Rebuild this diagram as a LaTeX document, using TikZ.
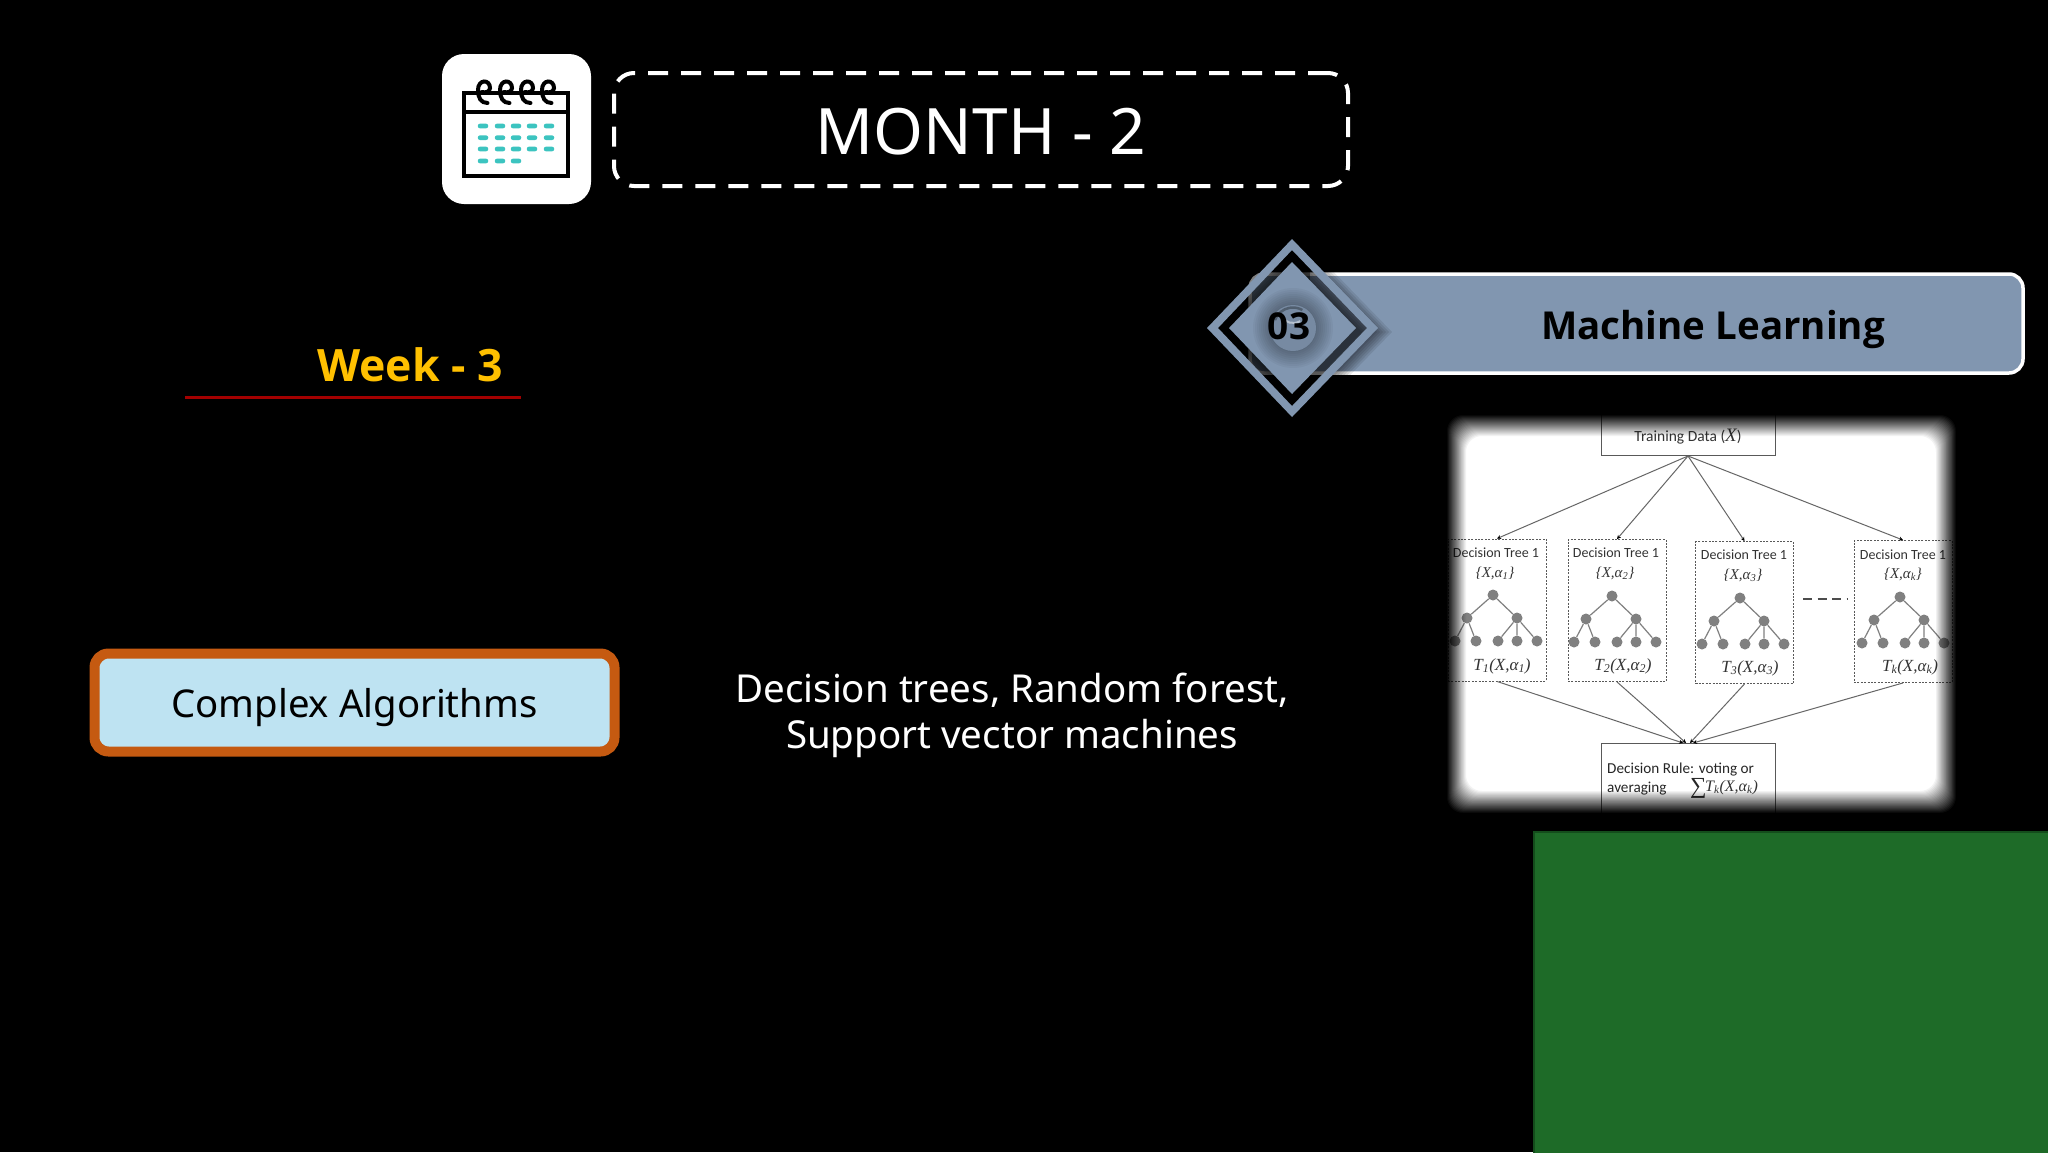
\documentclass[tikz,border=0pt]{standalone}
\usepackage{fontspec}
\setmainfont{Noto Sans}
\newfontfamily\boldf{Open Sans}
\newfontfamily\carl{Carlito}
\newfontfamily\tms{Liberation Serif}
\usetikzlibrary{arrows.meta,shapes.geometric}
\newcommand{\fsz}[1]{\fontsize{#1}{#1}\selectfont}
\definecolor{slate}{HTML}{8196B0}
\definecolor{rust}{HTML}{C55A11}
\definecolor{pale}{HTML}{BEE3F2}
\definecolor{teal1}{HTML}{3CC4C0}
\definecolor{grn}{HTML}{1E6B28}
\definecolor{grnb}{HTML}{144D1C}
\definecolor{wk}{HTML}{FFC000}
\definecolor{nodeg}{HTML}{808080}
\tikzset{
  x=1pt,y=-1pt,
  treebox/.style={draw=black!65,line width=.9pt,dash pattern=on 2pt off 1.4pt,minimum width=98,minimum height=142,inner sep=0},
  plainbox/.style={draw=black!65,line width=1pt,inner sep=0,fill=white},
  dn/.style={circle,fill=nodeg,minimum size=11,inner sep=0},
  de/.style={draw=nodeg,line width=1.2pt},
  flow/.style={draw=black!60,line width=1pt},
  flowa/.style={flow,-{Stealth[black,length=4pt,width=4pt]}},
  tlabel/.style={font=\carl\fsz{14},text=black!80,inner sep=0},
  mlabel/.style={font=\tms\itshape\fsz{15},text=black!80,inner sep=0},
  dashdot/.style={fill=teal1,rounded corners=2.2,minimum width=10.5,minimum height=4.6,inner sep=0},
  bdt/.pic={
    \node[dn] (-r) at (0,0) {};
    \node[dn] (-a) at (-26,23) {};
    \node[dn] (-b) at (24,23) {};
    \node[dn] (-l1) at (-38,46) {};
    \node[dn] (-l2) at (-17,46) {};
    \node[dn] (-l3) at (5,46) {};
    \node[dn] (-l4) at (24,46) {};
    \node[dn] (-l5) at (44,46) {};
    \draw[de] (-r)--(-a) (-r)--(-b) (-a)--(-l1) (-a)--(-l2) (-b)--(-l3) (-b)--(-l4) (-b)--(-l5);
  }
}
\newcommand{\ringat}[1]{\draw[black,line width=4pt,line cap=round,xshift=#1pt]
  (4.5,103) .. controls (-2,103) and (-5,98) .. (-5,90) .. controls (-5,79) and (7,79) .. (7,88) .. controls (7,92) and (2,93) .. (-1,92);}
\begin{document}
\begin{tikzpicture}
\useasboundingbox (0,0) rectangle (2048,1152);
\fill[black] (0,0) rectangle (2048,1152);

% green panel
\node[draw=grnb,line width=2pt,fill=grn,minimum width=520,minimum height=325,inner sep=0,anchor=north west] (panel) at (1533,831) {};

% calendar icon
\node[fill=white,rounded corners=22,minimum width=149,minimum height=150,inner sep=0] (iconbox) at (516.5,129) {};
\node[draw=black,line width=4.5pt,fill=white,minimum width=104,minimum height=83,inner sep=0] (cal) at (516,134.5) {};
\coordinate (hl) at (462,112); \coordinate (hr) at (570,112);
\draw[black,line width=4.5pt] (hl)--(hr);
\ringat{483}\ringat{505}\ringat{526}\ringat{547}
\foreach \yy [count=\r] in {126,137.7,149,161}{
  \foreach \xx [count=\c] in {483,500,516,532,549}{
    \ifnum\r=4 \ifnum\c>3 \else \node[dashdot] (d\r\c) at (\xx,\yy) {}; \fi
    \else \node[dashdot] (d\r\c) at (\xx,\yy) {}; \fi
  }
}

% month title
\node[draw=white,line width=4pt,rounded corners=20,dash pattern=on 20pt off 13pt,minimum width=734,minimum height=113,inner sep=0] (month) at (981,129.5) {};
\node[text=white,font=\fsz{64},inner sep=0] (monthtext) at (981,132) {MONTH - 2};

% week
\node[text=wk,font=\boldf\bfseries\fsz{44.6},inner sep=0] (week) at (410,364.5) {Week - 3};
\coordinate (wl) at (185,397); \coordinate (wr) at (521,397);
\draw[draw=black!20!red!80!black,line width=3pt] (wl)--(wr);

% banner
\node[draw=white,line width=3.5pt,fill=slate,rounded corners=14,minimum width=773,minimum height=99,inner sep=0] (banner) at (1636.5,323.5) {};
\node[font=\boldf\bfseries\fsz{38.5},text=black,inner sep=0] (mltext) at (1713,329) {Machine Learning};
\fill[black,opacity=.45] (1246,270) rectangle (1310,378);
% diamond shadows
\foreach \r in {66,69,...,96}{
  \fill[black,opacity=.09] (1296,\r*1.03+332) -- (1296+\r,332) -- (1296,332-\r*1.03) -- (1296-\r,332) -- cycle;
}
% outer ring
\fill[slate,even odd rule] (1292,239)--(1378,328)--(1292,417)--(1207,328)--cycle
   (1292,250)--(1367,328)--(1292,406)--(1218,328)--cycle;
% inner diamond
\fill[slate] (1292,262)--(1356,328)--(1292,394)--(1229,328)--cycle;
\foreach \r in {24,26,...,40}{ \fill[black,opacity=.035] (1293,328) circle (\r); }
\fill[slate!92!black] (1293,328) circle (23);
\draw[slate!55!black,line width=2.5pt,opacity=.8] (1275,320) arc (200:300:19);
\draw[slate!35,line width=2pt,opacity=.7] (1281,316) arc (150:60:14);
\node[font=\boldf\bfseries\fsz{37},text=black,inner sep=0] (num) at (1289,326) {03};

% complex algorithms
\node[draw=rust,line width=10pt,fill=pale,rounded corners=14,minimum width=520,minimum height=98,inner sep=0] (algo) at (354.5,702.5) {};
\node[text=black,font=\fsz{38.3},inner sep=0] (algotext) at (354.5,708) {Complex Algorithms};

% description
\node[text=white,font=\fsz{38.5},align=center,inner sep=0] (desc) at (1012,715) {Decision trees, Random forest,\\[7.5pt]Support vector machines};

% embedded figure
\fill[white] (1440,405) rectangle (1965,825);
\node[plainbox,minimum width=174,minimum height=44,anchor=south] (train) at (1688,456) {};
\node[font=\carl\fsz{15.5},text=black!80,inner sep=0] (traint) at (1688,437) {Training Data (\tms\itshape\fsz{19}X\carl\upshape\fsz{15.5})};

\node[treebox] (t1) at (1497,610) {};
\node[treebox] (t2) at (1617,610.5) {};
\node[treebox] (t3) at (1744.5,612.5) {};
\node[treebox] (t4) at (1903,611.5) {};

\node[plainbox,minimum width=174,minimum height=80,anchor=north] (rule) at (1688,743) {};
\node[font=\carl\fsz{15.2},text=black!85,inner sep=0,anchor=base west] (rt1) at (1607,773) {Decision Rule: voting or};
\node[font=\carl\fsz{15.2},text=black!85,inner sep=0,anchor=base west] (rt2) at (1607,792) {averaging};
\node[font=\tms\fsz{23},text=black!85,inner sep=0,anchor=base west] (rs) at (1690,793) {∑};
\node[font=\tms\itshape\fsz{16},text=black!80,inner sep=0,anchor=base west] (rf) at (1705,791) {T\textsubscript{k}(X,α\textsubscript{k})};

\foreach \n/\xx/\xs/\xf/\sub/\yl/\yb in {t1/1496/1495/1502/1/553/666,t2/1616/1615/1623/2/553/666,t3/1744/1743/1750/3/555/668,t4/1903/1903/1910/k/554.5/667}{
  \node[tlabel] (\n-h) at (\xx,\yl) {Decision Tree 1};
  \node[mlabel] (\n-s) at (\xs,\yl+20) {\{X,α\textsubscript{\sub}\}};
  \node[mlabel,font=\tms\itshape\fsz{17}] (\n-f) at (\xf,\yb) {T\textsubscript{\sub}(X,α\textsubscript{\sub})};
}
\pic (t1tree) at (1493,595) {bdt};
\pic (t2tree) at (1612,596) {bdt};
\pic (t3tree) at (1740,598) {bdt};
\pic (t4tree) at (1900,597) {bdt};

\coordinate (gapl) at (1803,599); \coordinate (gapr) at (1847,599);
\draw[black!70,line width=2pt,dash pattern=on 9pt off 5.5pt] (gapl)--(gapr);

\draw[flowa] (train.south)--(t1.north);
\draw[flowa] (train.south)--(t2.north);
\draw[flowa] (train.south)--(t3.north);
\draw[flowa] (train.south)--(t4.north);
\draw[flowa] (t1.south)--([xshift=-5pt]rule.north);
\draw[flowa] (t2.south)--([xshift=-2pt]rule.north);
\draw[flowa] (t3.south)--([xshift=2pt]rule.north);
\draw[flowa] (t4.south)--([xshift=5pt]rule.north);

% soft edge of the figure
\def\NN{22}
\foreach \i in {1,...,\NN}{
  \pgfmathsetmacro{\aa}{1/(\NN-\i+1)}
  \pgfmathsetmacro{\tt}{(\i-1)/(\NN-1)}
  \pgfmathsetmacro{\xa}{1466-19*\tt}
  \pgfmathsetmacro{\xb}{1936+20*\tt}
  \pgfmathsetmacro{\ya}{436-21*\tt}
  \pgfmathsetmacro{\yb}{791+22*\tt}
  \fill[black,opacity=\aa,even odd rule] (1438,403) rectangle (1967,827)
     [rounded corners=16] (\xa,\ya) rectangle (\xb,\yb);
}
\end{tikzpicture}
\end{document}
